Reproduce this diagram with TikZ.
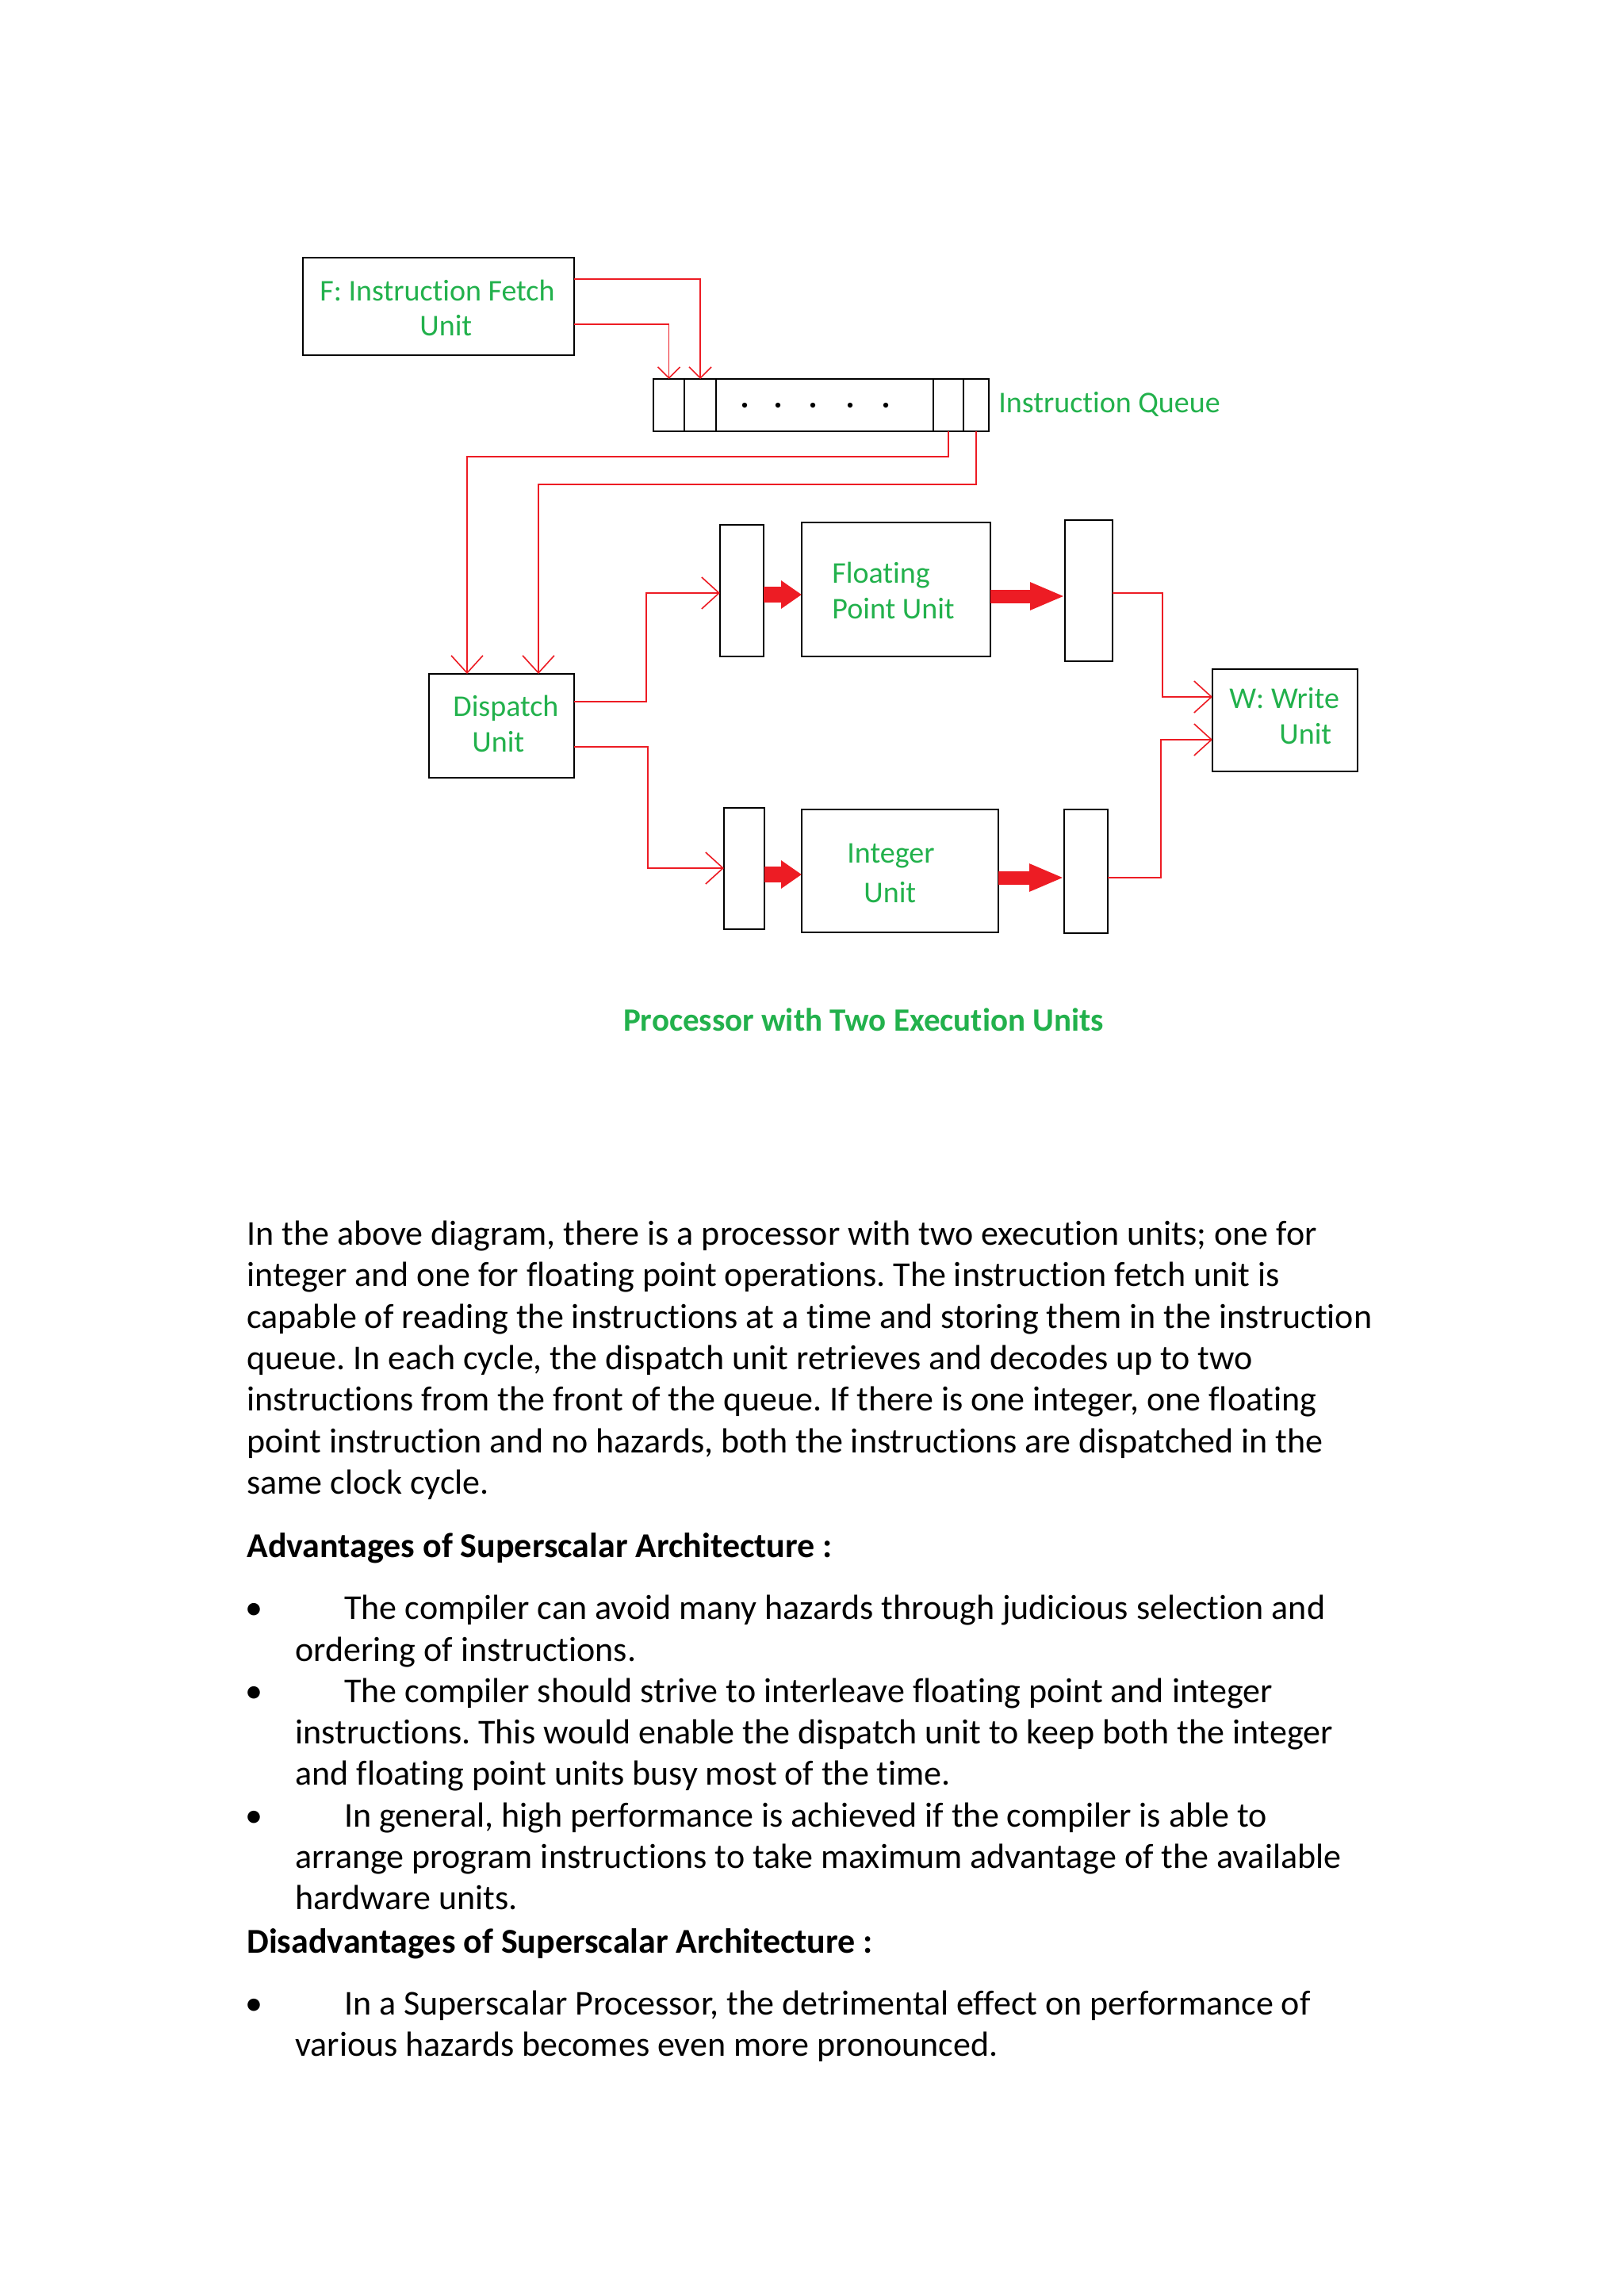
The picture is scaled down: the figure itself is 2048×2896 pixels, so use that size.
\documentclass[tikz,border=0pt]{standalone}
\usepackage{fontspec}
\setmainfont{Carlito}[Ligatures=NoCommon]
\usetikzlibrary{arrows.meta,fit,calc}
\definecolor{pgreen}{RGB}{34,177,76}
\definecolor{pred}{RGB}{237,28,36}
\frenchspacing
\begin{document}
\begin{tikzpicture}[x=0.5pt,y=-0.5pt,
  blk/.style={draw=black,line width=1.1pt,inner sep=0pt,outer sep=0pt},
  lbl/.style={text=pgreen,font=\fontsize{19}{23}\selectfont,inner sep=0pt,anchor=base west},
  body/.style={font=\fontsize{22}{26}\selectfont,inner sep=0pt,anchor=base west},
  bodyb/.style={font=\fontsize{22}{26}\selectfont\bfseries,inner sep=0pt,anchor=base west},
  wire/.style={draw=pred,line width=0.8pt,-{Straight Barb[length=11pt,width=20pt]}},
  wireq/.style={draw=pred,line width=0.8pt,-{Straight Barb[length=7pt,width=14pt]}},
  fatA/.style={draw=pred,line width=10pt,-{Triangle[length=13pt,width=17pt]}},
  fatB/.style={draw=pred,line width=8.5pt,-{Triangle[length=22pt,width=16pt]}},
  dotm/.style={fill=black}
]
\fill[white] (0,0) rectangle (2048,2896);
\useasboundingbox (0,0) rectangle (2048,2896);

% ---------- boxes ----------
\node[blk,fit={(382,325) (724,448)}] (fetch) {};
\node[blk,fit={(824,478) (863,544)}] (q1) {};
\node[blk,fit={(863,478) (903,544)}] (q2) {};
\node[blk,fit={(903,478) (1177,544)}] (qmid) {};
\node[blk,fit={(1177,478) (1215,544)}] (q4) {};
\node[blk,fit={(1215,478) (1247,544)}] (q5) {};
\node[blk,fit={(541,850) (724,981)}] (dispatch) {};
\node[blk,fit={(908,662) (963,828)}] (fpin) {};
\node[blk,fit={(1011,659) (1249,828)}] (fpu) {};
\node[blk,fit={(1343,656) (1403,834)}] (fpout) {};
\node[blk,fit={(1529,844) (1712,973)}] (wbox) {};
\node[blk,fit={(913,1019) (964,1172)}] (intin) {};
\node[blk,fit={(1011,1021) (1259,1176)}] (intu) {};
\node[blk,fit={(1342,1021) (1397,1177)}] (intout) {};

% queue dots
\foreach \dx in {939,981,1025,1072,1117} \fill[dotm] (\dx,511) circle[radius=1.6pt];

% ---------- labels ----------
\node[lbl] (fetchA) at (403,379) {F: Instruction Fetch};
\node[lbl] (fetchB) at (529,423) {Unit};
\node[lbl] (queueL) at (1259,520) {Instruction Queue};
\node[lbl] (dispA) at (571,903) {Dispatch};
\node[lbl] (dispB) at (595,948) {Unit};
\node[lbl] (fpA) at (1049,735) {Floating};
\node[lbl] (fpB) at (1049,780) {Point Unit};
\node[lbl] (wA) at (1550,893) {W: Write};
\node[lbl] (wB) at (1613,938) {Unit};
\node[lbl] (intA) at (1068,1088) {Integer};
\node[lbl] (intB) at (1089,1138) {Unit};
\node[text=pgreen,font=\fontsize{20.5}{24}\selectfont\bfseries,inner sep=0pt,anchor=base] (cap) at (1089,1300) {Processor with Two Execution Units};

% ---------- thin red connectors ----------
\draw[wireq] (fetch.east |- 0,352) -| (q2.north);
\draw[wireq] (fetch.east |- 0,409) -| (q1.north);
\draw[wire] (q4.south) |- (589,576) -- (589,0 |- dispatch.north);
\draw[wire] (q5.south) |- (679,611) -- (679,0 |- dispatch.north);
\draw[wire] (dispatch.east |- 0,885) -| (815,748) -- (fpin.west |- 0,748);
\draw[wire] (dispatch.east |- 0,942) -| (817,1095) -- (intin.west |- 0,1095);
\draw[wire] (fpout.east |- 0,748) -| (1466,879) -- (wbox.west |- 0,879);
\draw[wire] (intout.east |- 0,1107) -| (1464,933) -- (wbox.west |- 0,933);

% ---------- thick red arrows ----------
\draw[fatA] (fpin.east |- 0,750) -- (fpu.west |- 0,750);
\draw[fatB] (fpu.east |- 0,752) -- (fpout.west |- 0,752);
\draw[fatA] (intin.east |- 0,1103) -- (intu.west |- 0,1103);
\draw[fatB] (intu.east |- 0,1107) -- (intout.west |- 0,1107);

% ---------- body text ----------
\node[body] (p1) at (311,1570) {In the above diagram, there is a processor with two execution units; one for};
\node[body] (p2) at (311,1622) {integer and one for floating point operations. The instruction fetch unit is};
\node[body] (p3) at (311,1675) {capable of reading the instructions at a time and storing them in the instruction};
\node[body] (p4) at (311,1727) {queue. In each cycle, the dispatch unit retrieves and decodes up to two};
\node[body] (p5) at (311,1779) {instructions from the front of the queue. If there is one integer, one floating};
\node[body] (p6) at (311,1832) {point instruction and no hazards, both the instructions are dispatched in the};
\node[body] (p7) at (311,1884) {same clock cycle.};

\node[bodyb] (hA) at (311,1964) {Advantages of Superscalar Architecture :};

\node[body] (bu1) at (309,2042) {•};
\node[body] (a1) at (434,2042) {The compiler can avoid many hazards through judicious selection and};
\node[body] (a2) at (372,2095) {ordering of instructions.};
\node[body] (bu2) at (309,2147) {•};
\node[body] (a3) at (434,2147) {The compiler should strive to interleave floating point and integer};
\node[body] (a4) at (372,2199) {instructions. This would enable the dispatch unit to keep both the integer};
\node[body] (a5) at (372,2251) {and floating point units busy most of the time.};
\node[body] (bu3) at (309,2304) {•};
\node[body] (a6) at (434,2304) {In general, high performance is achieved if the compiler is able to};
\node[body] (a7) at (372,2356) {arrange program instructions to take maximum advantage of the available};
\node[body] (a8) at (372,2408) {hardware units.};

\node[bodyb] (hD) at (311,2463) {Disadvantages of Superscalar Architecture :};

\node[body] (bu4) at (309,2541) {•};
\node[body] (d1) at (434,2541) {In a Superscalar Processor, the detrimental effect on performance of};
\node[body] (d2) at (372,2593) {various hazards becomes even more pronounced.};
\end{tikzpicture}
\end{document}
